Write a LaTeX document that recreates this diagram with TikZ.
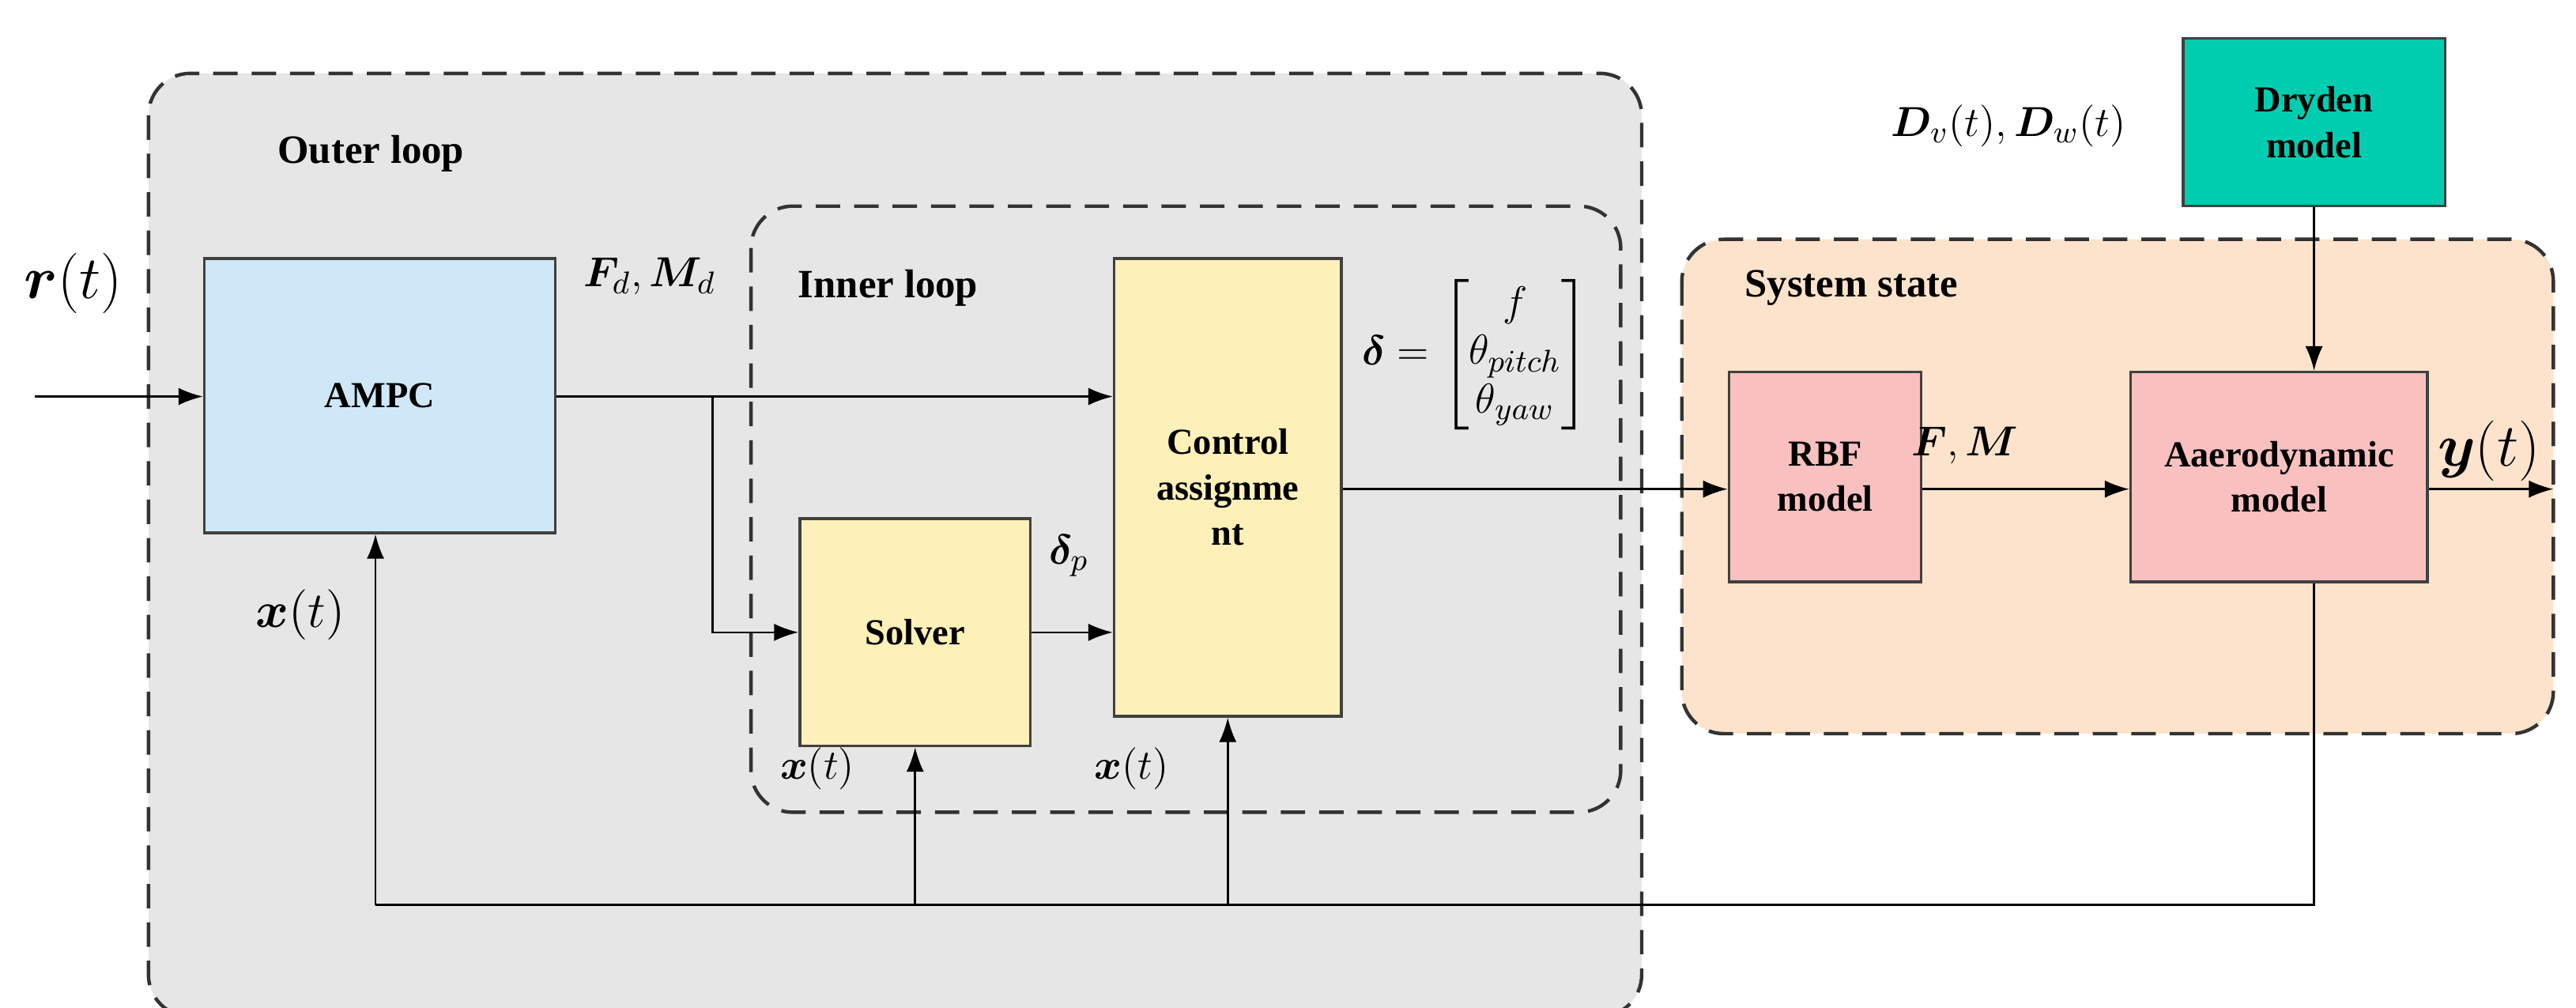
\documentclass[tikz,border=0pt]{standalone}
\usepackage{amsmath,bm}
\usepackage{fontspec}
\setmainfont{Liberation Serif}
\usetikzlibrary{arrows.meta}
\definecolor{dryc}{HTML}{00CDB0}
\definecolor{ampcc}{HTML}{CFE8F7}
\definecolor{yelc}{HTML}{FDF0B8}
\definecolor{pinkc}{HTML}{F9C0C0}
\definecolor{sysc}{HTML}{FDE3CC}
\definecolor{grayc}{HTML}{E6E6E6}
\begin{document}
\begin{tikzpicture}[x=0.5pt,y=-0.5pt,
  blk/.style={draw=black!75,line width=0.8pt,font=\fontsize{10.5}{13}\selectfont\bfseries,align=center,inner sep=0pt},
  grp/.style={draw=black!80,line width=1pt,dash pattern=on 7pt off 4pt,rounded corners=12pt},
  arr/.style={-{Latex[length=7pt,width=5pt]},line width=0.6pt},
  ln/.style={line width=0.6pt},
  ttl/.style={font=\fontsize{11.5}{12}\selectfont\bfseries,anchor=west},
  ml/.style={font=\fontsize{13}{14}\selectfont}]
\useasboundingbox (0,0) rectangle (1475,577);
% groups
\draw[grp,fill=grayc] (85,42) rectangle (940,582);
\draw[grp] (430,118) rectangle (928,465);
\draw[grp,fill=sysc] (963,137) rectangle (1462,420);
\node[ttl] (tout) at (152,88) {Outer loop};
\node[ttl] (tin) at (450,165) {Inner loop};
\node[ttl] (tsys) at (992,165) {System state};
% blocks
\node[blk,fill=ampcc,minimum width=100.5pt,minimum height=78.5pt] (ampc) at (217.5,226.5) {AMPC};
\node[blk,fill=yelc,minimum width=66pt,minimum height=65pt] (solver) at (524,362) {Solver};
\node[blk,fill=yelc,minimum width=65pt,minimum height=131pt] (ctrl) at (703,279) {Control\\assignme\\nt};
\node[blk,fill=pinkc,minimum width=55pt,minimum height=60pt] (rbf) at (1045,273) {RBF\\model};
\node[blk,fill=pinkc,minimum width=85pt,minimum height=60pt] (aero) at (1305,273) {Aaerodynamic\\model};
\node[blk,fill=dryc,minimum width=75pt,minimum height=48pt] (dry) at (1325,70) {Dryden\\model};
% coordinates
\coordinate (rin) at (20,227);
\coordinate (yout) at (1462,280);
\coordinate (br) at (408,227);
\coordinate (fb1) at (1325,518);
\coordinate (fb2) at (215,518);
% connectors
\draw[arr] (rin) -- (ampc.west |- rin);
\draw[arr] (ampc.east |- rin) -- (ctrl.west |- rin);
\draw[arr] (br) |- (solver.west);
\draw[arr] (solver.east) -- (ctrl.west |- solver.east);
\draw[arr] (ctrl.east |- yout) -- (rbf.west |- yout);
\draw[arr] (rbf.east |- yout) -- (aero.west |- yout);
\draw[arr] (aero.east |- yout) -- (yout);
\draw[arr] (dry.south) -- (aero.north -| dry.south);
\draw[ln] (aero.south -| fb1) -- (fb1) -- (fb2);
\draw[arr] (fb2) -- (ampc.south -| fb2);
\draw[arr] (solver.south |- fb1) -- (solver.south);
\draw[arr] (ctrl.south |- fb1) -- (ctrl.south);
% labels
\node[ml,font=\fontsize{16}{17}\selectfont] (lr) at (42,162) {$\bm{r}(t)$};
\node[ml] (lfm) at (372,158) {$\bm{F}_d,\bm{M}_d$};
\node[ml] (ldp) at (612,318) {$\bm{\delta}_p$};
\node[ml] (ldelta) at (845,203) {$\bm{\delta}=\begin{bmatrix} f\\ \theta_{pitch}\\ \theta_{yaw}\end{bmatrix}$};
\node[ml] (lFM) at (1125,255) {$\bm{F},\bm{M}$};
\node[ml,font=\fontsize{16}{17}\selectfont] (ly) at (1425,258) {$\bm{y}(t)$};
\node[ml] (ld) at (1150,72) {$\bm{D}_v(t),\bm{D}_w(t)$};
\node[ml,font=\fontsize{15}{16}\selectfont] (lx1) at (172,352) {$\bm{x}(t)$};
\node[ml] (lx2) at (468,440) {$\bm{x}(t)$};
\node[ml] (lx3) at (648,440) {$\bm{x}(t)$};
\end{tikzpicture}
\end{document}
